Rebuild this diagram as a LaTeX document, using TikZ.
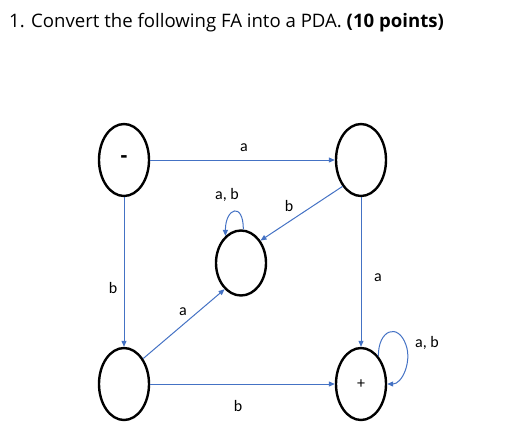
\documentclass[tikz,border=0pt]{standalone}
\usepackage{fontspec}
\setmainfont{Open Sans}
\newfontfamily\lblfont{Carlito}
\usetikzlibrary{shapes.geometric,arrows.meta}
\definecolor{edgeblue}{HTML}{4472C4}
\begin{document}
\begin{tikzpicture}[x=1pt,y=-1pt,
  state/.style={ellipse,draw=black,line width=2.4pt,inner sep=0pt,minimum width=50pt,minimum height=72pt},
  midstate/.style={ellipse,draw=black,line width=2.4pt,inner sep=0pt,minimum width=50pt,minimum height=65pt},
  edge/.style={draw=edgeblue,line width=1pt,-{Triangle[length=6pt,width=5pt]}},
  lbl/.style={font=\lblfont\fontsize{16}{19}\selectfont,inner sep=0pt}]
\useasboundingbox (0,0) rectangle (510,442);
\node[anchor=base west,inner sep=0pt,font=\fontsize{18.6}{22}\selectfont] (title) at (9,27) {1. Convert the following FA into a PDA. \textbf{(10 points)}};
\node[state] (tl) at (124,160) {};
\node[state] (tr) at (361,160) {};
\node[midstate] (mid) at (241,263) {};
\node[state] (bl) at (124,384) {};
\node[state] (br) at (361,384) {};
\node[font=\bfseries\fontsize{21}{22}\selectfont,inner sep=0pt] (minus) at (124,159) {-};
\node[font=\lblfont\fontsize{16}{18}\selectfont,inner sep=0pt] (plus) at (361,384) {+};
\draw[edge] (tl.east) -- (tr.west);
\draw[edge] (tl.south) -- (bl.north);
\draw[edge] (tr.south) -- (br.north);
\draw[edge] (bl.east) -- (br.west);
\draw[edge] (tr.235) -- (mid.49);
\draw[edge] (bl.53) -- (mid.238);
\draw[edge] (mid.86) .. controls +(0,-28) and +(0,-28) .. (mid.120);
\draw[edge] (br.58) .. controls (378,330) and (398,322) .. (406,345) .. controls (412,362) and (402,384) .. (br.east);
\node[lbl] (la1) at (244,148) {a};
\node[lbl] (lb1) at (113,288) {b};
\node[lbl] (la2) at (378,278) {a};
\node[lbl] (lb2) at (238,406) {b};
\node[lbl] (lb3) at (289,206) {b};
\node[lbl] (la3) at (183,312) {a};
\node[lbl] (lab1) at (227,195) {a, b};
\node[lbl] (lab2) at (427,343) {a, b};
\end{tikzpicture}
\end{document}
